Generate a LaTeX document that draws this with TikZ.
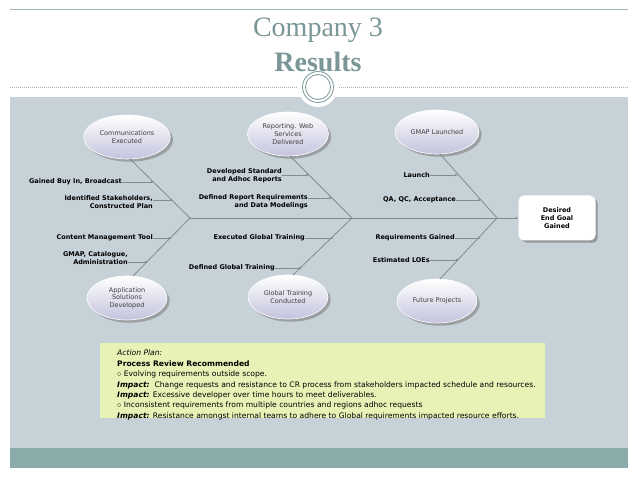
\documentclass[tikz,border=0pt]{standalone}
\usepackage{fontspec}
\setmainfont{DejaVu Sans}
\newfontfamily\titlefont{Liberation Serif}
\usetikzlibrary{shapes.geometric,shadows,arrows.meta}
\definecolor{panel}{HTML}{C6D2D7}
\definecolor{band}{HTML}{8BABAB}
\definecolor{titlegray}{HTML}{7A9696}
\definecolor{note}{HTML}{E6F2B6}
\definecolor{lilac}{HTML}{C3C3DE}
\definecolor{bone}{HTML}{7F8C90}
\tikzset{
  goal/.style={ellipse, minimum width=80pt, minimum height=44pt, draw=white, line width=0.6pt,
    top color=white, bottom color=lilac, drop shadow={opacity=0.6},
    font=\fontsize{6.5}{7.7}\selectfont, text=black!75, align=center},
  cause/.style={font=\bfseries\fontsize{6.5}{7.7}\selectfont, align=right, anchor=east, inner sep=0pt},
  rib/.style={draw=bone, line width=0.8pt, -{Latex[length=3pt,width=2.5pt]}},
}
\begin{document}
\begin{tikzpicture}[x=1pt,y=-1pt]
	\useasboundingbox (0,0) rectangle (638,478);
	% frame
	\fill[white] (0,0) rectangle (638,478);
	\draw[titlegray!70, line width=1pt] (10,10) -- (628,10);
	\fill[panel] (10,97) rectangle (628,448);
	\fill[band] (10,448) rectangle (628,468);
	\draw[titlegray!70, densely dotted, line width=1pt] (10,88) -- (300,88) (337,88) -- (628,88);
	\fill[white] (318,87) circle (20);
	\draw[titlegray, line width=0.8pt] (318,87) circle (15.5) (318,87) circle (12.5);
	\node[font=\titlefont\fontsize{28}{30}\selectfont, text=titlegray] (ttl) at (318,30) {Company 3};
	\node[font=\titlefont\bfseries\fontsize{28}{30}\selectfont, text=titlegray] (sub) at (318,62) {Results};

	% heads
	\node[goal] (comm) at (127,137) {Communications\\Executed};
	\node[goal] (appl) at (127,298) {Application\\Solutions\\Developed};
	\node[goal] (repo) at (288,134) {Reporting. Web\\Services\\Delivered};
	\node[goal] (trai) at (288,297) {Global Training\\Conducted};
	\node[goal] (gmap) at (437,132) {GMAP Launched};
	\node[goal] (futu) at (437,301) {Future Projects};
	\node[draw=white, line width=1pt, rounded corners=5pt, fill=white, drop shadow={opacity=0.7},
	  minimum width=76pt, minimum height=44pt, align=center,
	  font=\bfseries\fontsize{6.5}{7.7}\selectfont] (goal) at (557,218) {Desired\\End Goal\\Gained};

	% spine
	\coordinate (j1) at (190,218);
	\coordinate (j2) at (352,218);
	\coordinate (j3) at (497,218);
	\draw[bone, line width=0.8pt] (j1) -- (j3);
	\draw[rib] (j3) -- (goal);
	\draw[bone, line width=0.8pt] (130,159) -- (j1) -- (133,276);
	\draw[bone, line width=0.8pt] (290,156) -- (j2) -- (293,275);
	\draw[bone, line width=0.8pt] (440,154) -- (j3) -- (440,279);

	% causes
	\node[cause] (c1) at (122,182) {Gained Buy In, Broadcast};
	\node[cause] (c2) at (153,202) {Identified Stakeholders,\\Constructed Plan};
	\node[cause] (c3) at (153,238) {Content Management Tool};
	\node[cause] (c4) at (128,258) {GMAP, Catalogue,\\Administration};
	\node[cause] (c5) at (282,176) {Developed Standard\\and Adhoc Reports};
	\node[cause] (c6) at (308,202) {Defined Report Requirements\\and Data Modelings};
	\node[cause] (c7) at (305,238) {Executed Global Training};
	\node[cause] (c8) at (275,268) {Defined Global Training};
	\node[cause] (c9) at (430,175) {Launch};
	\node[cause] (c10) at (456,200) {QA, QC, Acceptance};
	\node[cause] (c11) at (455,238) {Requirements Gained};
	\node[cause] (c12) at (430,260) {Estimated LOEs};
	\draw[rib] (c1.east) -- (154,182);
	\draw[rib] (c2.east |- 0,200) -- (173,200);
	\draw[rib] (c3) -- (172,238);
	\draw[rib] (c4.east |- 0,262) -- (148,262);
	\draw[rib] (c5.east |- 0,175) -- (309,175);
	\draw[rib] (c6.east |- 0,198) -- (332,198);
	\draw[rib] (c7) -- (334,238);
	\draw[rib] (c8) -- (302,268);
	\draw[rib] (c9) -- (458,175);
	\draw[rib] (c10) -- (481,200);
	\draw[rib] (c11) -- (481,238);
	\draw[rib] (c12) -- (459,260);

	% action plan
	\fill[note] (100,343) rectangle (545,418);
	\node[anchor=north west, align=left, inner sep=0pt, font=\fontsize{7.6}{10.4}\selectfont] (plan) at (117,350) {%
	  \textit{Action Plan:}\\
	  \textbf{Process Review Recommended}\\
	  $\circ$ Evolving requirements outside scope.\\
	  \textbf{\textit{Impact:}}\ \ Change requests and resistance to CR process from stakeholders impacted schedule and resources.\\
	  \textbf{\textit{Impact:}} Excessive developer over time hours to meet deliverables.\\
	  $\circ$ Inconsistent requirements from multiple countries and regions adhoc requests\\
	  \textbf{\textit{Impact:}} Resistance amongst internal teams to adhere to Global requirements impacted resource efforts.};
\end{tikzpicture}
\end{document}
